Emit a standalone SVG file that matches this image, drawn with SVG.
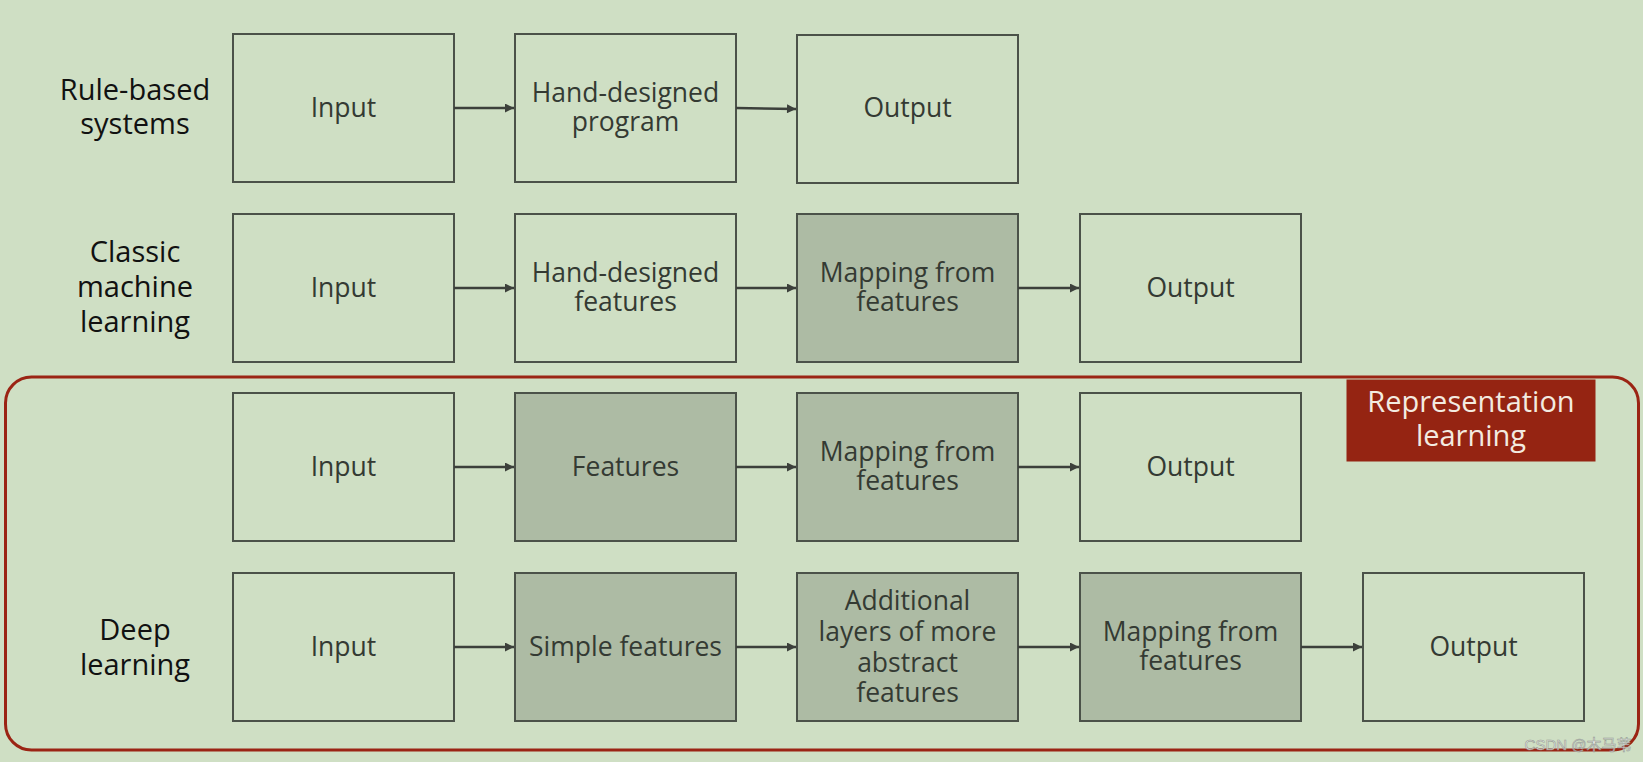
<svg xmlns="http://www.w3.org/2000/svg" width="1643" height="762" viewBox="0 0 1643 762">
<style>
.bx{fill:#cfdfc4;stroke:#4b5249;stroke-width:2}
.sh{fill:#adbba4;stroke:#4b5249;stroke-width:2}
.t{font-family:"Open Sans","Noto Sans",sans-serif;font-size:26.5px;fill:#343a33;text-anchor:middle}
.lb{font-family:"Open Sans","Noto Sans",sans-serif;font-size:29px;fill:#111;text-anchor:middle}
.rl{font-family:"Open Sans","Noto Sans",sans-serif;font-size:29px;fill:#f3ebe0;text-anchor:middle}
.ar{stroke:#3c403b;stroke-width:2.5;fill:none;marker-end:url(#ah)}
</style>
<defs>
<marker id="ah" viewBox="0 0 10 10" refX="10" refY="5" markerWidth="11" markerHeight="9" markerUnits="userSpaceOnUse" orient="auto">
<path d="M0,0 L10,5 L0,10 z" fill="#3c403b"/>
</marker>
</defs>
<rect x="0" y="0" width="1643" height="762" fill="#cfdfc4"/>

<g id="rep-frame">
<rect x="5.5" y="377" width="1633" height="373" rx="26" ry="26" fill="none" stroke="#9b2414" stroke-width="3"/>
<rect x="1346.5" y="379.5" width="249" height="82" fill="#952412"/>
<text class="rl" x="1471" y="411.5">Representation</text>
<text class="rl" x="1471" y="446">learning</text>
</g>

<g id="labels">
<text class="lb" x="135" y="100">Rule-based</text>
<text class="lb" x="135" y="134">systems</text>
<text class="lb" x="135" y="262">Classic</text>
<text class="lb" x="135" y="297">machine</text>
<text class="lb" x="135" y="332">learning</text>
<text class="lb" x="135" y="640">Deep</text>
<text class="lb" x="135" y="675">learning</text>
</g>

<g id="r1-input"><rect class="bx" x="233" y="34" width="221" height="148"/><text class="t" x="343.5" y="117">Input</text></g>
<g id="r1-program"><rect class="bx" x="515" y="34" width="221" height="148"/><text class="t" x="625.5" y="101.5">Hand-designed</text><text class="t" x="625.5" y="130.5">program</text></g>
<g id="r1-output"><rect class="bx" x="797" y="35" width="221" height="148"/><text class="t" x="907.5" y="117">Output</text></g>

<g id="r2-input"><rect class="bx" x="233" y="214" width="221" height="148"/><text class="t" x="343.5" y="297">Input</text></g>
<g id="r2-features"><rect class="bx" x="515" y="214" width="221" height="148"/><text class="t" x="625.5" y="282">Hand-designed</text><text class="t" x="625.5" y="311">features</text></g>
<g id="r2-mapping"><rect class="sh" x="797" y="214" width="221" height="148"/><text class="t" x="907.5" y="282">Mapping from</text><text class="t" x="907.5" y="311">features</text></g>
<g id="r2-output"><rect class="bx" x="1080" y="214" width="221" height="148"/><text class="t" x="1190.5" y="297">Output</text></g>

<g id="r3-input"><rect class="bx" x="233" y="393" width="221" height="148"/><text class="t" x="343.5" y="476">Input</text></g>
<g id="r3-features"><rect class="sh" x="515" y="393" width="221" height="148"/><text class="t" x="625.5" y="476">Features</text></g>
<g id="r3-mapping"><rect class="sh" x="797" y="393" width="221" height="148"/><text class="t" x="907.5" y="461">Mapping from</text><text class="t" x="907.5" y="490">features</text></g>
<g id="r3-output"><rect class="bx" x="1080" y="393" width="221" height="148"/><text class="t" x="1190.5" y="476">Output</text></g>

<g id="r4-input"><rect class="bx" x="233" y="573" width="221" height="148"/><text class="t" x="343.5" y="656">Input</text></g>
<g id="r4-simple"><rect class="sh" x="515" y="573" width="221" height="148"/><text class="t" x="625.5" y="656">Simple features</text></g>
<g id="r4-additional"><rect class="sh" x="797" y="573" width="221" height="148"/><text class="t" x="907.5" y="610">Additional</text><text class="t" x="907.5" y="641">layers of more</text><text class="t" x="907.5" y="671.5">abstract</text><text class="t" x="907.5" y="702">features</text></g>
<g id="r4-mapping"><rect class="sh" x="1080" y="573" width="221" height="148"/><text class="t" x="1190.5" y="641">Mapping from</text><text class="t" x="1190.5" y="670">features</text></g>
<g id="r4-output"><rect class="bx" x="1363" y="573" width="221" height="148"/><text class="t" x="1473.5" y="656">Output</text></g>

<g id="connectors">
<line class="ar" x1="454" y1="108" x2="514" y2="108"/>
<line class="ar" x1="736" y1="108" x2="796" y2="109"/>
<line class="ar" x1="454" y1="288" x2="514" y2="288"/>
<line class="ar" x1="736" y1="288" x2="796" y2="288"/>
<line class="ar" x1="1018" y1="288" x2="1079" y2="288"/>
<line class="ar" x1="454" y1="467" x2="514" y2="467"/>
<line class="ar" x1="736" y1="467" x2="796" y2="467"/>
<line class="ar" x1="1018" y1="467" x2="1079" y2="467"/>
<line class="ar" x1="454" y1="647" x2="514" y2="647"/>
<line class="ar" x1="736" y1="647" x2="796" y2="647"/>
<line class="ar" x1="1018" y1="647" x2="1079" y2="647"/>
<line class="ar" x1="1301" y1="647" x2="1362" y2="647"/>
</g>

<text x="1578" y="750" font-family="'Liberation Sans','Noto Sans CJK SC',sans-serif" font-size="15" fill="#f2f2f2" stroke="#8d918c" stroke-width="0.6" text-anchor="middle" opacity="0.85">CSDN @木马苇</text>
</svg>
